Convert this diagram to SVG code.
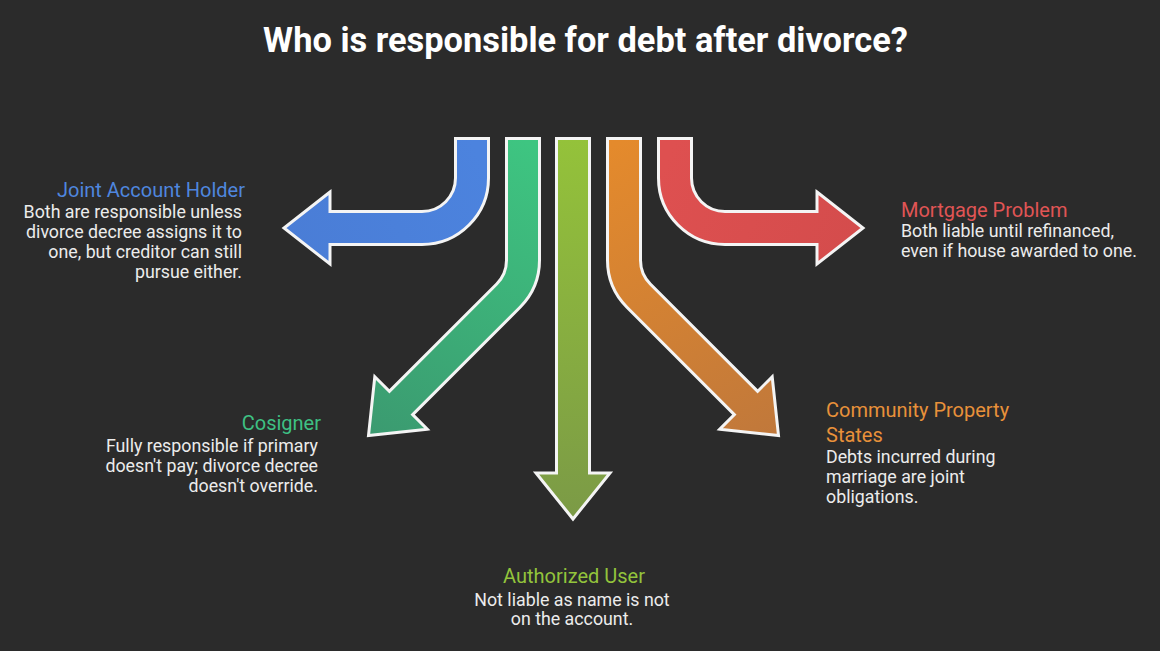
<svg xmlns="http://www.w3.org/2000/svg" width="1160" height="651" viewBox="0 0 1160 651">
<defs>
<linearGradient id="gBlue" gradientUnits="userSpaceOnUse" x1="472" y1="140" x2="284" y2="228"><stop offset="0" stop-color="#4c83de"/><stop offset="1" stop-color="#4a7dd6"/></linearGradient>
<linearGradient id="gGreen" gradientUnits="userSpaceOnUse" x1="523" y1="140" x2="368" y2="436"><stop offset="0" stop-color="#3ec581"/><stop offset="1" stop-color="#3b9a70"/></linearGradient>
<linearGradient id="gLime" gradientUnits="userSpaceOnUse" x1="573" y1="140" x2="573" y2="519"><stop offset="0" stop-color="#94c23a"/><stop offset="1" stop-color="#7b9a46"/></linearGradient>
<linearGradient id="gOrange" gradientUnits="userSpaceOnUse" x1="624" y1="140" x2="779" y2="436"><stop offset="0" stop-color="#e48a2c"/><stop offset="1" stop-color="#c0783b"/></linearGradient>
<linearGradient id="gRed" gradientUnits="userSpaceOnUse" x1="675" y1="140" x2="863" y2="228"><stop offset="0" stop-color="#de5050"/><stop offset="1" stop-color="#d44c4c"/></linearGradient>
</defs>
<style>
.out{fill:none;stroke:#f4f4f4;stroke-width:36;stroke-linecap:butt;stroke-linejoin:round}
.body{fill:none;stroke-width:30;stroke-linecap:butt}
.head{stroke:#f4f4f4;stroke-width:3;stroke-linejoin:miter}
.t{font-family:Roboto,"Liberation Sans",sans-serif}
.title{font-size:34.4px;font-weight:bold;fill:#ffffff}
.h{font-size:20px}
.b{font-size:17.8px;fill:#ececec}
</style>
<rect width="1160" height="651" fill="#2b2b2b"/>
<text class="t title" x="585.5" y="52" text-anchor="middle">Who is responsible for debt after divorce?</text>
<g id="connectors">
<g id="arrow-blue">
<path class="out" d="M472,137 V178 A50,50 0 0 1 422,228 H328"/>
<polygon class="head" fill="url(#gBlue)" points="330,192 284,228 330,264"/>
<path class="body" stroke="url(#gBlue)" d="M472,140 V178 A50,50 0 0 1 422,228 H327"/>
</g>
<g id="arrow-green">
<path class="out" d="M523,137 V260.3 A50,50 0 0 1 508.4,295.6 L400,404"/>
<polygon class="head" fill="url(#gGreen)" points="427.2,429.2 368.5,435.5 374.8,376.8"/>
<path class="body" stroke="url(#gGreen)" d="M523,140 V260.3 A50,50 0 0 1 508.4,295.6 L399,405"/>
</g>
<g id="arrow-lime">
<path class="out" d="M573,137 V474"/>
<polygon class="head" fill="url(#gLime)" points="536,473 610,473 573,519"/>
<path class="body" stroke="url(#gLime)" d="M573,140 V476"/>
</g>
<g id="arrow-orange">
<path class="out" d="M624,137 V260.3 A50,50 0 0 0 638.6,295.6 L747,404"/>
<polygon class="head" fill="url(#gOrange)" points="719.8,429.2 778.5,435.5 772.2,376.8"/>
<path class="body" stroke="url(#gOrange)" d="M624,140 V260.3 A50,50 0 0 0 638.6,295.6 L748,405"/>
</g>
<g id="arrow-red">
<path class="out" d="M675,137 V178 A50,50 0 0 0 725,228 H819"/>
<polygon class="head" fill="url(#gRed)" points="817,192 863,228 817,264"/>
<path class="body" stroke="url(#gRed)" d="M675,140 V178 A50,50 0 0 0 725,228 H820"/>
</g>
</g>
<g id="node-joint" class="t" text-anchor="end">
<text class="h" x="245" y="197" fill="#4f86de">Joint Account Holder</text>
<text class="b" x="242" y="218">Both are responsible unless</text>
<text class="b" x="242" y="238">divorce decree assigns it to</text>
<text class="b" x="242" y="258">one, but creditor can still</text>
<text class="b" x="242" y="278">pursue either.</text>
</g>
<g id="node-mortgage" class="t">
<text class="h" x="901" y="217" fill="#e05555">Mortgage Problem</text>
<text class="b" x="901" y="237">Both liable until refinanced,</text>
<text class="b" x="901" y="257">even if house awarded to one.</text>
</g>
<g id="node-cosigner" class="t" text-anchor="end">
<text class="h" x="321" y="430" fill="#3ec083">Cosigner</text>
<text class="b" x="318" y="452">Fully responsible if primary</text>
<text class="b" x="318" y="472">doesn't pay; divorce decree</text>
<text class="b" x="318" y="492">doesn't override.</text>
</g>
<g id="node-community" class="t">
<text class="h" x="826" y="417" fill="#e8913a">Community Property</text>
<text class="h" x="826" y="442" fill="#e8913a">States</text>
<text class="b" x="826" y="463">Debts incurred during</text>
<text class="b" x="826" y="483">marriage are joint</text>
<text class="b" x="826" y="503">obligations.</text>
</g>
<g id="node-authorized" class="t" text-anchor="middle">
<text class="h" x="574" y="583" fill="#93c43c">Authorized User</text>
<text class="b" x="572" y="606">Not liable as name is not</text>
<text class="b" x="572" y="625">on the account.</text>
</g>
</svg>
